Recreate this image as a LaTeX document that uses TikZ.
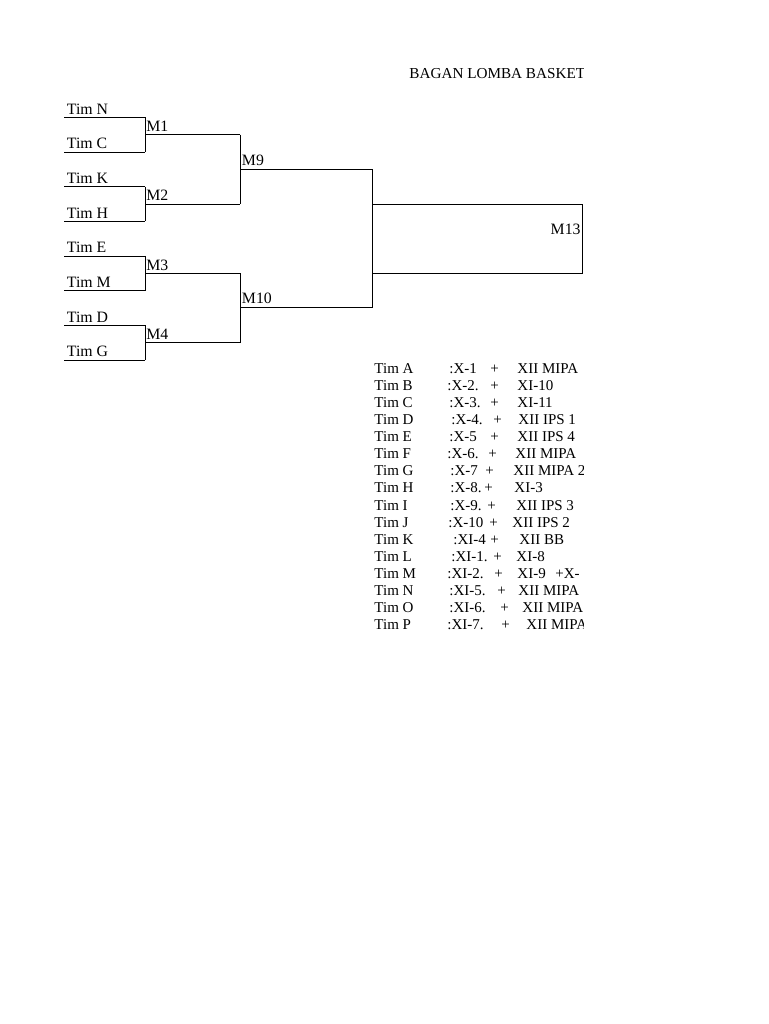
\documentclass[tikz,border=0pt]{standalone}
\usepackage{fontspec}
\setmainfont{Liberation Serif}
\begin{document}
\begin{tikzpicture}[x=1pt,y=-1pt,line width=0.9pt,
  team/.style={anchor=base west,inner sep=0pt,font=\fontsize{15.8}{18}\selectfont},
  mlabel/.style={anchor=base west,inner sep=0pt,font=\fontsize{15.8}{18}\selectfont},
  legend/.style={anchor=base west,inner sep=0pt,font=\fontsize{15}{17}\selectfont},
  titlestyle/.style={anchor=base west,inner sep=0pt,font=\fontsize{15.2}{17}\selectfont}]
\useasboundingbox (0,0) rectangle (768,1024);
\fill[white] (0,0) rectangle (768,1024);
\begin{scope}
\clip (0,0) rectangle (583.6,1024);
% title
\node[titlestyle] (title) at (409,79) {BAGAN LOMBA BASKET};
% teams
\foreach \n [count=\i from 0] in {N,C,K,H,E,M,D,G} {
  \pgfmathsetmacro\yy{117.3+\i*34.67}
  \coordinate (s\n) at (64,\yy);
  \coordinate (e\n) at (145,\yy);
  \node[team] (l\n) at (66.5,\yy-3.1) {Tim \n};
  \draw (s\n) -- (e\n);
}
% first round
\coordinate (m1) at (145,134.6);  \coordinate (m1e) at (240.3,134.6);
\coordinate (m2) at (145,204.0);  \coordinate (m2e) at (240.3,204.0);
\coordinate (m3) at (145,273.3);  \coordinate (m3e) at (240.3,273.3);
\coordinate (m4) at (145,342.6);  \coordinate (m4e) at (240.3,342.6);
\draw (eN) -- (eC);
\draw (eK) -- (eH);
\draw (eE) -- (eM);
\draw (eD) -- (eG);
\draw (m1) -- (m1e);
\draw (m2) -- (m2e);
\draw (m3) -- (m3e);
\draw (m4) -- (m4e);
\node[mlabel] (lm1) at (146,131.4) {M1};
\node[mlabel] (lm2) at (146,200.8) {M2};
\node[mlabel] (lm3) at (146,270.1) {M3};
\node[mlabel] (lm4) at (146,339.4) {M4};
% second round
\coordinate (m9) at (240.3,169.3);  \coordinate (m9e) at (372.7,169.3);
\coordinate (m10) at (240.3,307.7); \coordinate (m10e) at (372.7,307.7);
\draw (m1e) -- (m2e);
\draw (m3e) -- (m4e);
\draw (m9) -- (m9e);
\draw (m10) -- (m10e);
\node[mlabel] (lm9) at (241.5,165.5) {M9};
\node[mlabel] (lm10) at (241.5,303.5) {M10};
% final
\coordinate (f1) at (372.7,204);  \coordinate (f1e) at (582.7,204);
\coordinate (f2) at (372.7,273);  \coordinate (f2e) at (582.7,273);
\draw (m9e) -- (m10e);
\draw (f1) -- (f1e) -- (f2e) -- (f2);
\node[mlabel,anchor=base east] (lm13) at (581,234) {M13};
% legend
\foreach \t/\a/\ax/\px/\b/\bx [count=\i from 0] in {
  A/{:X-1}/449/490/{XII MIPA}/517,
  B/{:X-2.}/447/490/{XI-10}/517,
  C/{:X-3.}/449/490/{XI-11}/517,
  D/{:X-4.}/451/493/{XII IPS 1}/518,
  E/{:X-5}/449/490/{XII IPS 4}/517,
  F/{:X-6.}/447/488/{XII MIPA}/515,
  G/{:X-7}/450/485/{XII MIPA 2}/513,
  H/{:X-8.}/450/484/{XI-3}/514,
  I/{:X-9.}/450/487/{XII IPS 3}/516,
  J/{:X-10}/448/489/{XII IPS 2}/512,
  K/{:XI-4}/453/490/{XII BB}/519,
  L/{:XI-1.}/451/493/{XI-8}/516,
  M/{:XI-2.}/447/494/{XI-9}/517,
  N/{:XI-5.}/449/497/{XII MIPA}/518,
  O/{:XI-6.}/449/500/{XII MIPA}/522,
  P/{:XI-7.}/447/501/{XII MIPA}/526} {
  \pgfmathsetmacro\ly{373+\i*17.13}
  \node[legend] (lt\t) at (374,\ly) {Tim \t};
  \node[legend] (la\t) at (\ax,\ly) {\a};
  \node[legend] (lp\t) at (\px,\ly) {+};
  \node[legend] (lb\t) at (\bx,\ly) {\b};
}
\node[legend] (lxM) at (555,578.6) {+X-};
\end{scope}
\end{tikzpicture}
\end{document}
